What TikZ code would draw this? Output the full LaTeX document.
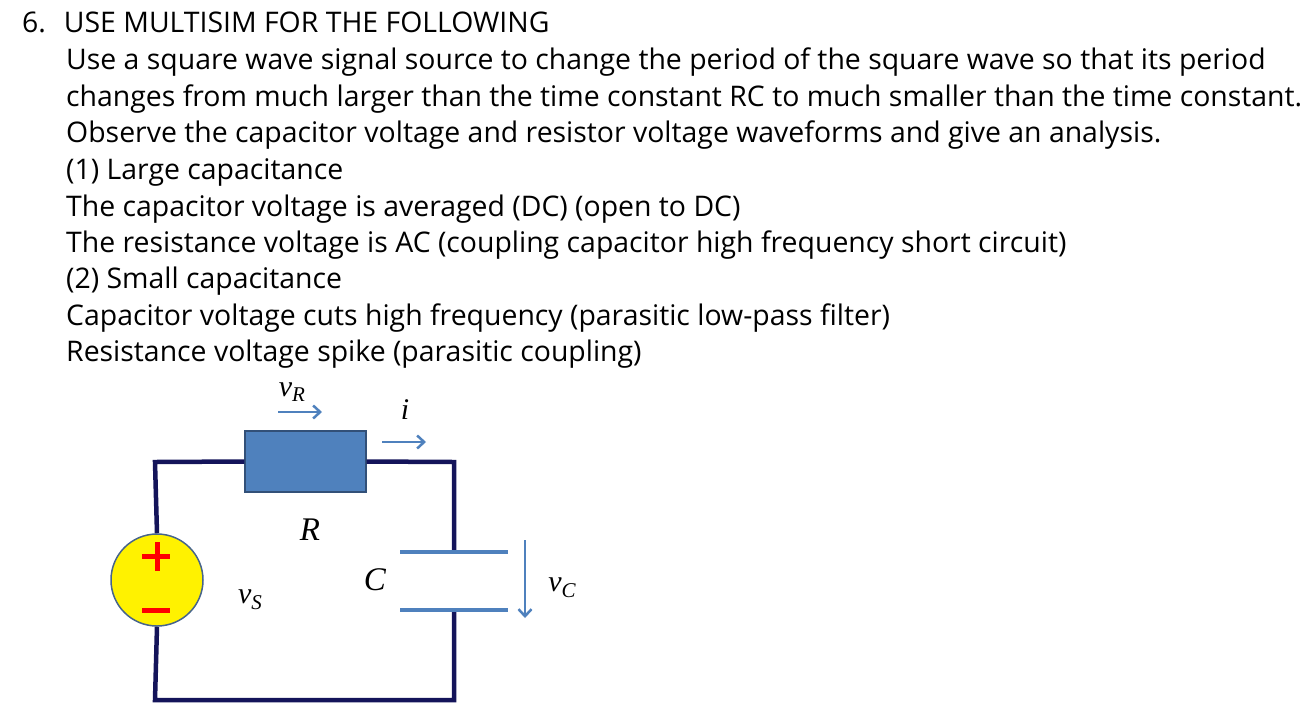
\documentclass[tikz,border=0pt]{standalone}
\usepackage{fontspec}
\usetikzlibrary{arrows.meta}
\setmainfont{Open Sans}
\newfontfamily\mathserif{Liberation Serif}
\begin{document}
\begin{tikzpicture}[x=1pt,y=-1pt,
  txt/.style={anchor=base west,inner sep=0pt,font=\fontsize{28.4}{32}\selectfont},
  wire/.style={line width=4.5pt,draw={rgb,255:red,20;green,20;blue,90}},
  blu/.style={line width=4pt,draw={rgb,255:red,79;green,129;blue,189}},
  barr/.style={line width=2.5pt,draw={rgb,255:red,79;green,129;blue,189},->,>={Straight Barb[length=7pt,width=13pt]}},
  lab/.style={inner sep=0pt,font=\mathserif\itshape\fontsize{30}{32}\selectfont}]
\useasboundingbox (0,0) rectangle (1311,724);
\node[txt] (t1) at (22,32) {6.\hspace{18pt}USE MULTISIM FOR THE FOLLOWING};
\node[txt] (t2) at (66,69) {Use a square wave signal source to change the period of the square wave so that its period};
\node[txt] (t3) at (66,106) {changes from much larger than the time constant RC to much smaller than the time constant.};
\node[txt] (t4) at (66,142) {Observe the capacitor voltage and resistor voltage waveforms and give an analysis.};
\node[txt] (t5) at (66,179) {(1) Large capacitance};
\node[txt] (t6) at (66,216) {The capacitor voltage is averaged (DC) (open to DC)};
\node[txt] (t7) at (66,252) {The resistance voltage is AC (coupling capacitor high frequency short circuit)};
\node[txt] (t8) at (66,288) {(2) Small capacitance};
\node[txt] (t9) at (66,325) {Capacitor voltage cuts high frequency (parasitic low-pass filter)};
\node[txt] (t10) at (66,361) {Resistance voltage spike (parasitic coupling)};
% circuit
\coordinate (tl) at (155,462); \coordinate (tr) at (454,462);
\coordinate (bl) at (155,700); \coordinate (br) at (454,700);
\node[draw={rgb,255:red,50;green,80;blue,120},line width=1.2pt,fill={rgb,255:red,79;green,129;blue,189},minimum width=121pt,minimum height=61pt,inner sep=0pt] (R) at (305.5,461.5) {};
\node[circle,draw={rgb,255:red,70;green,100;blue,140},line width=1.5pt,fill=yellow,minimum size=92pt,inner sep=0pt] (S) at (157,580) {};
\coordinate (c1) at (454,552); \coordinate (c2) at (454,610);
\draw[wire] (S.north) -- (tl) -- (R.west);
\draw[wire] (R.east) -- (tr) -- (c1);
\draw[wire] (c2) -- (br) -- (bl) -- (S.south);
\draw[blu] (400,552) -- (508,552);
\draw[blu] (400,610) -- (508,610);
\draw[red,line width=5pt] (157,542) -- (157,571) (142,556.5) -- (170,556.5);
\draw[red,line width=5pt] (142,610) -- (170,610);
\coordinate (a1) at (525,540); \coordinate (a2) at (525,618);
\draw[barr] (a1) -- (a2);
\coordinate (r1) at (278,412); \coordinate (r2) at (322,412);
\draw[barr] (r1) -- (r2);
\coordinate (i1) at (382,442); \coordinate (i2) at (426,442);
\draw[barr] (i1) -- (i2);
\node[lab] (vr) at (292,392) {v\raisebox{-5pt}{\fontsize{21}{21}\selectfont R}};
\node[lab] (i) at (405,410) {i};
\node[lab,font=\mathserif\itshape\fontsize{33}{33}\selectfont] (Rl) at (310,530) {R};
\node[lab,font=\mathserif\itshape\fontsize{33}{33}\selectfont] (Cl) at (375,580) {C};
\node[lab] (vs) at (250,600) {v\raisebox{-6pt}{\fontsize{21}{21}\selectfont S}};
\node[lab] (vc) at (562,588) {v\raisebox{-6pt}{\fontsize{21}{21}\selectfont C}};
\end{tikzpicture}
\end{document}
